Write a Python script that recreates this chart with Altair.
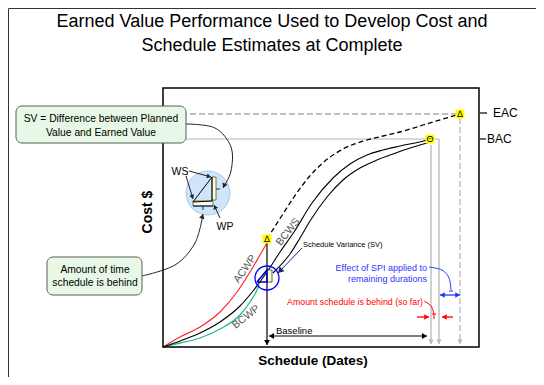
import math
import altair as alt
import pandas as pd

FONT = "Liberation Sans"

# Drawing frame in plot units (axes box spans schedule 0..316 and cost 0..259)
X_DOMAIN = [-155, 373]
Y_DOMAIN = [-30, 339]
W, H = 528, 369

# ---------------- data ----------------
title_lines = ["Earned Value Performance Used to Develop Cost and",
               "Schedule Estimates at Complete"]
title_t = [109, 109]
title_c = [325, 301]

box_t, box_t2, box_c, box_c2 = [0], [316], [0], [259]

acwp_t = [0, 17, 37, 57, 74, 87, 97, 104]
acwp_c = [0, 10, 20, 35, 55, 75, 92, 104]
bcws_t = [0, 17, 37, 57, 77, 90, 104, 117, 131, 149, 170, 187, 204, 220, 237, 264, 267]
bcws_c = [0, 6, 14, 25, 41, 56, 75, 95, 115, 144, 169, 183, 192, 197, 201, 207, 208]
bcwp_t = [0, 17, 37, 57, 77, 87, 94, 96]
bcwp_c = [0, 4, 9, 18, 32, 45, 57, 62]
bcwp_fc_t = [110, 127, 137, 147, 164, 180, 197, 214, 230, 247, 264, 267]
bcwp_fc_c = [74, 93, 109, 126, 150, 167, 179, 187, 193, 199, 204, 205]
eac_fc_t = [104, 118, 131, 146, 162, 180, 204, 220, 237, 260, 280, 294]
eac_fc_c = [108, 130, 150, 170, 186, 198, 207, 211, 215, 222, 228, 232]

# markers: ACWP now, BAC, EAC
marker_t = [104, 267, 297]
marker_c = [108, 208, 233]
marker_glyph = ["\u2206", "\u0398", "\u2206"]

# small triangle at "time now" and big explanatory triangle
small_tri_t = [94, 104, 104, 94]
small_tri_c = [65, 77, 65, 65]
big_tri_t = [30, 49, 49, 30]
big_tri_c = [145, 170, 146, 145]

# ---------------- encodings ----------------
xs = alt.Scale(domain=X_DOMAIN, nice=False, zero=False)
ys = alt.Scale(domain=Y_DOMAIN, nice=False, zero=False)


def xe(f="t"):
    return alt.X(f"{f}:Q", scale=xs, axis=None)


def ye(f="c"):
    return alt.Y(f"{f}:Q", scale=ys, axis=None)


def line(ts, cs, color, width=1.0, dash=None, interp="linear"):
    df = pd.DataFrame({"t": ts, "c": cs, "i": list(range(len(ts)))})
    kw = dict(color=color, strokeWidth=width, interpolate=interp)
    if dash:
        kw["strokeDash"] = dash
    return alt.Chart(df).mark_line(**kw).encode(x=xe(), y=ye(), order=alt.Order("i:Q"))


def head_row(t0, c0, t1, c1, h):
    dx, dy = t1 - t0, c1 - c0
    L = math.hypot(dx, dy) or 1
    ux, uy = dx / L, dy / L
    ang = math.degrees(math.atan2(dx, dy)) % 360
    return (t1 - ux * h, c1 - uy * h, ang)


def arrow(ts, cs, color, width=1.0, dash=None, interp="linear", end=True,
          start=False, head=30):
    layers = [line(ts, cs, color, width, dash, interp)]
    h = math.sqrt(head) * 0.433
    rows = []
    if end:
        rows.append(head_row(ts[-2], cs[-2], ts[-1], cs[-1], h))
    if start:
        rows.append(head_row(ts[1], cs[1], ts[0], cs[0], h))
    if rows:
        hd = pd.DataFrame(rows, columns=["t", "c", "ang"])
        layers.append(alt.Chart(hd).mark_point(shape="triangle-up", filled=True, size=head,
                                               color=color, opacity=1, strokeWidth=0)
                      .encode(x=xe(), y=ye(), angle=alt.Angle("ang:Q", scale=None)))
    return layers


def text(labels, ts, cs, size, color="black", align="center", weight="normal",
         angle=0, baseline="middle"):
    df = pd.DataFrame({"label": labels, "t": ts, "c": cs})
    return alt.Chart(df).mark_text(fontSize=size, color=color, align=align,
                                   fontWeight=weight, angle=angle, baseline=baseline,
                                   font=FONT).encode(x=xe(), y=ye(), text="label:N")


def rect(t, t2, c, c2, fill, stroke, sw=1.0, radius=0, fill_opacity=1.0):
    df = pd.DataFrame({"t": t, "t2": t2, "c": c, "c2": c2})
    return alt.Chart(df).mark_rect(fill=fill, stroke=stroke, strokeWidth=sw,
                                   cornerRadius=radius, fillOpacity=fill_opacity).encode(
        x=xe("t"), x2="t2:Q", y=ye("c"), y2="c2:Q")


layers = []

# gray reference lines (BAC / EAC levels and completion dates)
layers.append(line([0, 276], [208, 208], "#b5b5b5", 1.2))
layers.append(line([0, 295], [233, 233], "#ababab", 1.5, dash=[6, 3]))
layers += arrow([268, 268], [202, 3], "#b8b8b8", 1.3, head=28)
layers += arrow([276, 276], [208, 3], "#b8b8b8", 1.3, head=28)
layers += arrow([297, 297], [229, 3], "#b8b8b8", 1.3, dash=[6, 3], head=28)

# big explanatory circle
layers.append(alt.Chart(pd.DataFrame({"t": [45], "c": [154]})).mark_point(
    shape="circle", size=1936, filled=True, color="#cfe5f9", opacity=1,
    stroke="#a3cbef", strokeWidth=1).encode(x=xe(), y=ye()))
layers.append(rect([49], [53], [147], [170], "#ffffcc", "#555555", 0.8))
layers.append(rect([30], [50], [141], [146], "#ffffcc", "#555555", 0.8))
layers.append(line([30, 50], [141, 141], "#1a237e", 1.2))
layers.append(line(big_tri_t, big_tri_c, "black", 1.0))
layers.append(line([53, 57], [158, 158], "#1a237e", 1.0))
layers.append(line([40, 40], [141, 137], "#1a237e", 1.0))

# curves
layers.append(line(acwp_t, acwp_c, "#ff2a2a", 1.2, interp="monotone"))
layers.append(line(bcwp_t, bcwp_c, "#1fbf8f", 1.3, interp="monotone"))
layers.append(line(bcws_t, bcws_c, "black", 1.1, interp="monotone"))
layers.append(line(bcwp_fc_t, bcwp_fc_c, "black", 1.1, interp="monotone"))
layers.append(line(eac_fc_t, eac_fc_c, "black", 1.3, dash=[5, 3], interp="monotone"))

# axes box
layers.append(rect(box_t, box_t2, box_c, box_c2, "white", "black", 1.5, fill_opacity=0))
layers.append(line([317, 324], [234, 234], "black", 1.2))
layers.append(line([317, 323], [208, 208], "black", 1.2))

# time-now line and baseline span
layers += arrow([104, 104], [104, 2], "black", 1.2, head=34)
layers += arrow([106, 264], [11, 11], "black", 1.2, start=True, head=34)

# time-now circle with small triangle
layers.append(rect([104], [109], [65], [77], "#ffffcc", "#333333", 0.8))
layers.append(line(small_tri_t, small_tri_c, "#0000cc", 1.6))
layers.append(alt.Chart(pd.DataFrame({"t": [104], "c": [69]})).mark_point(
    shape="circle", size=576, filled=False, color="#0000ff", opacity=1,
    strokeWidth=1.3).encode(x=xe(), y=ye()))

# schedule variance pointer
layers += arrow([139, 115], [99, 74], "#1a237e", 1.0, head=45)

# SPI effect (blue) and schedule slip (red)
layers += arrow([277, 297], [52, 52], "#2233ff", 1.3, start=True, head=30)
layers.append(line([266, 279, 286, 288], [80, 77, 69, 57], "#2233ff", 1.0, interp="cardinal"))
layers.append(line([286, 290], [56, 56], "#2233ff", 1.0))
layers += arrow([254, 266], [30, 30], "#ff0000", 1.3, head=30)
layers += arrow([290, 279], [30, 30], "#ff0000", 1.3, head=30)
layers.append(line([261, 268, 271], [46, 41, 33], "#ff0000", 1.0, interp="cardinal"))
layers.append(line([269, 273], [33, 33], "#ff0000", 1.0))
layers.append(line([271, 271], [33, 28], "#ff0000", 1.0))

# callout connectors
layers += arrow([23, 52, 68, 68, 60], [223, 219, 200, 176, 159], "#222222", 1.0,
                interp="cardinal", head=30)
layers += arrow([-21, 12, 32, 40], [71, 82, 104, 133], "#222222", 1.0,
                interp="cardinal", head=30)
layers += arrow([26, 48], [176, 170], "#222222", 1.0, head=24)
layers += arrow([23, 30], [171, 148], "#222222", 1.0, head=24)
layers += arrow([57, 51], [129, 142], "#222222", 1.0, head=24)

# callout boxes
layers.append(rect([-147], [23], [204], [241], "#e8f8e6", "#5a5a5a", 1.0, radius=6))
layers.append(rect([-116], [-21], [52], [90], "#e8f8e6", "#5a5a5a", 1.0, radius=6))

# yellow markers
mk = pd.DataFrame({"t": marker_t, "c": marker_c, "label": marker_glyph})
layers.append(alt.Chart(mk).mark_point(shape="square", size=81, filled=True, color="#ffff00",
                                       opacity=1, strokeWidth=0).encode(x=xe(), y=ye()))
layers.append(alt.Chart(mk).mark_text(fontSize=9, color="black", font=FONT,
                                      baseline="middle").encode(x=xe(), y=ye(), text="label:N"))

# texts
layers.append(text(title_lines, title_t, title_c, 18))
layers.append(text(["Cost $"], [-15], [135], 14, weight="bold", angle=270))
layers.append(text(["Schedule (Dates)"], [150], [-14], 13.5, weight="bold"))
layers.append(text(["EAC"], [330], [234], 12, align="left"))
layers.append(text(["BAC"], [324], [208], 12, align="left"))
layers.append(text(["SV = Difference between Planned", "Value and Earned Value"],
                   [-62, -62], [228, 214], 10.3))
layers.append(text(["Amount of time", "schedule is behind"], [-68, -68], [77, 64], 10.3))
layers.append(text(["WS", "WP"], [17, 62], [175, 120], 10.5))
layers.append(text(["ACWP"], [82], [78], 10.5, color="#555555", angle=305))
layers.append(text(["BCWP"], [83], [30], 10.5, color="#555555", angle=322))
layers.append(text(["BCWS"], [125], [115], 10.5, color="#555555", angle=308))
layers.append(text(["Schedule Variance (SV)"], [140], [102], 7.5, align="left"))
layers.append(text(["Effect of SPI applied to", "remaining durations"], [264, 264], [79, 68],
                   9, color="#3333ff", align="right"))
layers.append(text(["Amount schedule is behind (so far)"], [260], [45], 8.8,
                   color="#ff0000", align="right"))
layers.append(text(["Baseline"], [113], [16], 9.5, align="left"))

chart = alt.layer(*layers).properties(
    width=W, height=H, padding=0,
    autosize=alt.AutoSizeParams(type="none"),
    background="white",
).configure_view(stroke="#333333", strokeWidth=1)

chart.save("out.html", embed_options={"renderer": "svg", "actions": False})
